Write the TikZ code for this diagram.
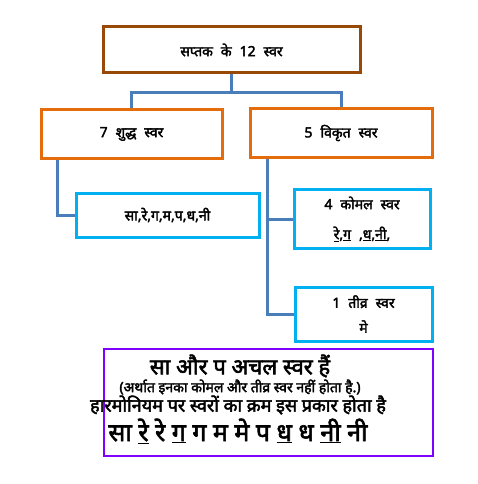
\documentclass[tikz,border=0pt]{standalone}
\usepackage{fontspec}
\usetikzlibrary{calc}
\setmainfont[Script=Devanagari, AutoFakeBold=2.5]{Noto Sans}
\definecolor{topbrown}{HTML}{984807}
\definecolor{midorange}{HTML}{E46C0A}
\definecolor{lowcyan}{HTML}{00B0F0}
\definecolor{linkblue}{HTML}{4A7EBB}
\definecolor{notepurple}{HTML}{7F00FF}
\newcommand\wideskip{\spaceskip=8pt\relax}

\begin{document}
\begin{tikzpicture}[x=1pt, y=-1pt,
  box/.style={draw, line width=3pt, fill=white, align=center, inner sep=0pt, font=\bfseries\fontsize{14}{25}\selectfont\wideskip},
  link/.style={draw=linkblue, line width=3pt}]

\useasboundingbox (0,0) rectangle (477,484);

\node[box, draw=topbrown, minimum width=257pt, minimum height=46pt] (saptak) at (231.5,50) {सप्तक के 12 स्वर};

\node[box, draw=midorange, minimum width=181pt, minimum height=48pt] (shuddh) at (131.5,134) {7 शुद्ध स्वर};
\node[box, draw=midorange, minimum width=182pt, minimum height=48pt] (vikrit) at (341,133) {5 विकृत स्वर};

\node[box, draw=lowcyan, minimum width=183pt, minimum height=44pt] (shuddhlist) at (167.5,215) {सा,रे,ग,म,प,ध,नी};
\node[box, draw=lowcyan, minimum width=136pt, minimum height=59pt] (komal) at (362,219) {4 कोमल स्वर\\[5pt]\underline{रे},\underline{ग} ,\underline{ध},\underline{नी},};
\node[box, draw=lowcyan, minimum width=137pt, minimum height=54pt] (teevra) at (363.5,314) {1 तीव्र स्वर\\मे};

% connectors
\coordinate (fork) at ($(saptak.south)+(0,18)$);
\draw[link] (saptak.south) -- (fork) -| (shuddh.north);
\draw[link] (fork) -| (vikrit.north);
\draw[link] ([xshift=18pt]shuddh.south west) |- (shuddhlist.west);
\draw[link] ([xshift=19pt]vikrit.south west) |- (komal.west);
\draw[link] ([xshift=19pt]vikrit.south west) |- (teevra.west);

% note box
\node[draw=notepurple, line width=1.2pt, minimum width=329pt, minimum height=107pt] (note) at (268.5,402.5) {};
\node[font=\bfseries\fontsize{22}{24}\selectfont] (achal) at (240,366) {सा और प अचल स्वर हैं};
\node[font=\bfseries\fontsize{14}{16}\selectfont] (arthat) at (240,387) {(अर्थात इनका कोमल और तीव्र स्वर नहीं होता है.)};
\node[font=\bfseries\fontsize{18}{20}\selectfont] (kram) at (238,405) {हारमोनियम पर स्वरों का क्रम इस प्रकार होता है};
\node[font=\bfseries\fontsize{25}{27}\selectfont] (sargam) at (238,431) {सा \underline{रे} रे \underline{ग} ग म मे प \underline{ध} ध \underline{नी} नी};
\end{tikzpicture}
\end{document}
